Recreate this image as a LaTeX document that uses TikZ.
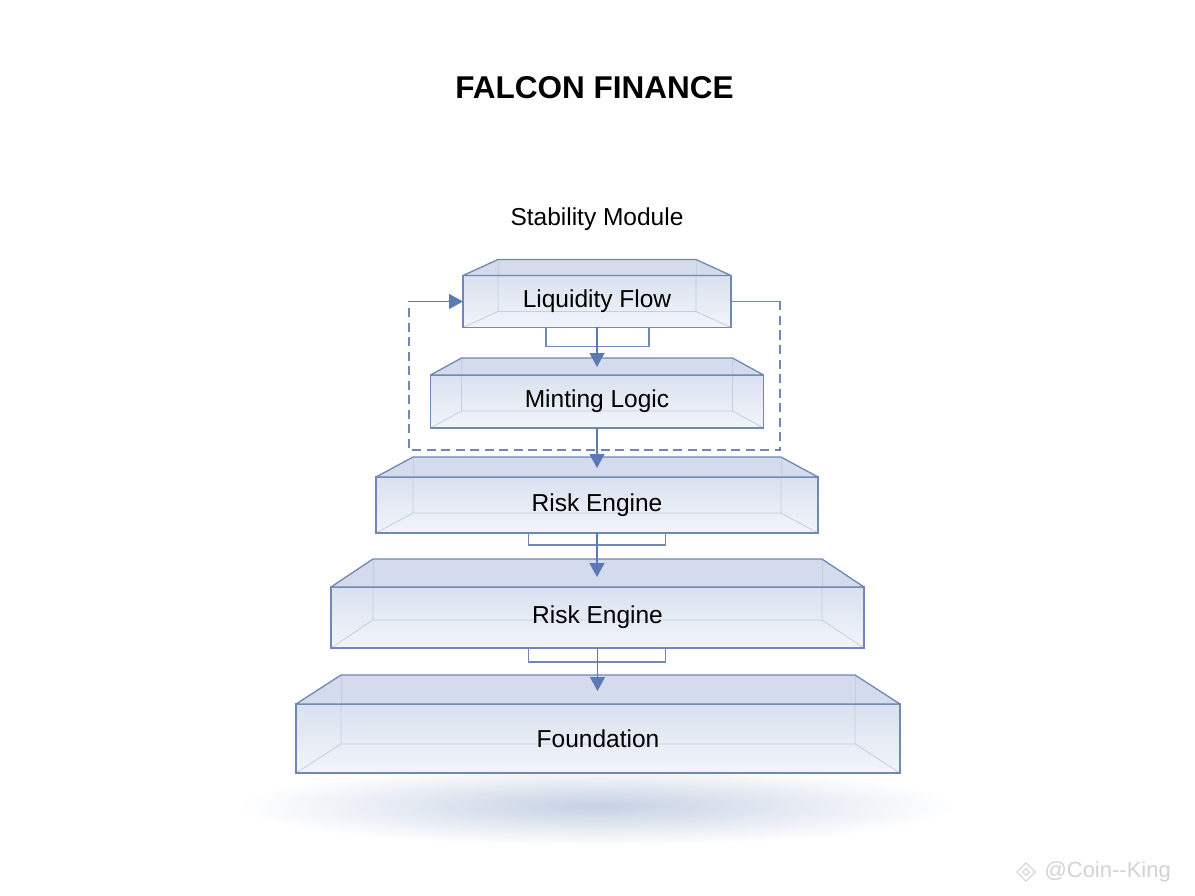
\documentclass[tikz,border=0pt]{standalone}
\usepackage{fontspec}
\setmainfont{Liberation Sans}
\usetikzlibrary{arrows.meta,calc}
\definecolor{edge}{HTML}{7088B3}
\definecolor{arrowc}{HTML}{5B79B4}
\definecolor{topc}{HTML}{D4DBEC}
\definecolor{fronttop}{HTML}{DAE1EF}
\definecolor{frontbot}{HTML}{F2F5FA}
\definecolor{innerc}{HTML}{C4CEE1}
\definecolor{shadowc}{HTML}{C6D1E4}
\definecolor{wmark}{HTML}{D3D3D3}
\newcommand\slabtop[3]{%
  \filldraw[topface] (#1.north west) -- ++(#2,-#3) -- ($(#1.north east)+(-#2,-#3)$) -- (#1.north east) -- cycle;
  \draw[innerline] ($(#1.north west)+(#2,-#3)$) -- ++(0,#3);
  \draw[innerline] ($(#1.north east)+(-#2,-#3)$) -- ++(0,#3);
  \draw[edge, line width=1.3pt, line join=round] (#1.north west) -- ++(#2,-#3) -- ($(#1.north east)+(-#2,-#3)$) -- (#1.north east) -- (#1.north west);
}
\begin{document}
\begin{tikzpicture}[x=1pt,y=-1pt,
  innerline/.style={draw=innerc, line width=0.8pt},
  topface/.style={fill=topc, draw=none},
  slab/.style n args={4}{draw=edge, line width=1.3pt, top color=fronttop, bottom color=frontbot,
    minimum width=#1pt, minimum height=#2pt, inner sep=0pt, outer sep=0pt,
    font=\fontsize{24.5}{29}\selectfont,
    /utils/exec={\def\sdx{#3}\def\sdu{#4}},
    path picture={
      \draw[innerline]
        (path picture bounding box.south west) -- ++(\sdx,-\sdu)
        -- ($(path picture bounding box.south east)+(-\sdx,-\sdu)$)
        -- (path picture bounding box.south east)
        ($(path picture bounding box.south west)+(\sdx,-\sdu)$) -- ($(path picture bounding box.north west)+(\sdx,0)$)
        ($(path picture bounding box.south east)+(-\sdx,-\sdu)$) -- ($(path picture bounding box.north east)+(-\sdx,0)$);
    }},
  arr/.style={draw=arrowc, line width=1.3pt, -{Triangle[width=15pt,length=14pt]}},
  bracket/.style={draw=edge, line width=1.3pt},
  loopline/.style={draw=edge, line width=1.2pt},
  loopdash/.style={draw=edge, line width=1.2pt, dash pattern=on 9pt off 5.5pt}
]
\useasboundingbox (0,0) rectangle (1195,896);
\fill[white] (0,0) rectangle (1195,896);

% shadow
\shade[inner color=shadowc, outer color=white] (597,806) ellipse [x radius=360pt, y radius=40pt];

% title
\node[anchor=base, font=\fontsize{31.5}{36}\selectfont\bfseries] (title) at (594.5,99) {FALCON FINANCE};
\node[anchor=base, font=\fontsize{24.5}{29}\selectfont] (stab) at (597,226) {Stability Module};

% slabs
\node[slab={268}{52}{35}{16}] (b1) at (597,301.5) {Liquidity Flow};
\slabtop{b1}{35}{16}
\node[slab={333}{53}{31}{17}] (b2) at (597,401.5) {Minting Logic};
\slabtop{b2}{31}{17}
\node[slab={442}{56}{37}{20}] (b3) at (597,505) {Risk Engine};
\slabtop{b3}{37}{20}
\node[slab={533}{61}{42}{28}] (b4) at (597.5,617.5) {Risk Engine};
\slabtop{b4}{42}{28}
\node[slab={604}{69}{45}{29}] (b5) at (598,738.5) {Foundation};
\slabtop{b5}{45}{29}

% brackets
\draw[bracket] ([xshift=-51pt]b1.south) -- ++(0,19) -- ++(103,0) -- ++(0,-19);
\draw[bracket] ([xshift=-68.5pt]b3.south) -- ++(0,12) -- ++(137,0) -- ++(0,-12);
\draw[bracket] ([xshift=-69pt]b4.south) -- ++(0,14) -- ++(137,0) -- ++(0,-14);

% feedback loop
\coordinate (lr) at (780,301.5);
\coordinate (lbr) at (780,450);
\coordinate (lbl) at (409,450);
\coordinate (ll) at (409,301.5);
\draw[loopline] (b1.east) -- (lr);
\draw[loopdash] (lr) -- (lbr) -- (lbl) -- (ll);
\draw[arr] (ll) -- (b1.west);

% arrows
\draw[arr] (b1.south) -- (b1.south |- {$(b2.north)+(0,-8)$});
\draw[arr] (b2.south) -- (b2.south |- {$(b3.north)+(0,-9)$});
\draw[arr] (b3.south) -- (b3.south |- {$(b4.north)+(0,-10)$});
\draw[arr] (b4.south) -- (b4.south |- {$(b5.north)+(0,-13)$});

% watermark
\node[draw=wmark, line width=1pt, rotate=45, minimum size=13pt, inner sep=0pt] (wlogo) at (1026,872) {};
\node[draw=wmark, line width=1pt, rotate=45, minimum size=5pt, inner sep=0pt] (wlogoin) at (1026,872) {};
\node[anchor=west, text=wmark, font=\fontsize{22}{26}\selectfont] (wtext) at (1041,872) {@Coin-{}-King};
\end{tikzpicture}
\end{document}
